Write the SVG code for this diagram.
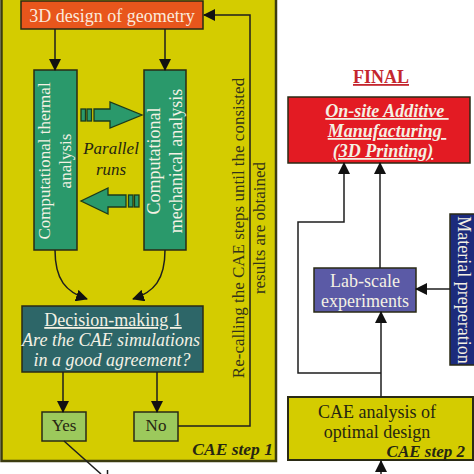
<svg xmlns="http://www.w3.org/2000/svg" width="474" height="474" viewBox="0 0 474 474">
<style>
text{font-family:"Liberation Serif","Times New Roman",serif;font-size:18px}
.c{text-anchor:middle}
.w{fill:#f4f1e4}
.d{fill:#262612}
.i{font-style:italic}
.b{font-weight:bold}
.u{text-decoration:underline}
.ln{fill:none;stroke:#1e1e1e;stroke-width:1.5}
.bx{stroke:#2a2a14;stroke-width:1.5}
</style>
<defs>
<marker id="ah" markerUnits="userSpaceOnUse" markerWidth="12" markerHeight="12" viewBox="0 0 12 12" refX="11" refY="6" orient="auto">
<path d="M0,0 L12,6 L0,12 Z" fill="#111"/>
</marker>
</defs>
<rect width="474" height="474" fill="#fff"/>

<g id="cae-step-1">
<rect x="1.5" y="-10" width="274.5" height="471" fill="#d4cc00" stroke="#3c3c10" stroke-width="2.5"/>
<text class="d i b" x="273" y="455" text-anchor="end" style="font-size:17.5px">CAE step 1</text>
</g>

<g id="design">
<rect class="bx" x="21" y="1" width="182" height="28" fill="#e8561c"/>
<text class="c" x="112" y="22" fill="#fbeadc">3D design of geometry</text>
</g>

<g id="thermal">
<rect class="bx" x="34" y="70" width="43" height="180" fill="#2a996b"/>
<text class="c w" transform="translate(50,161) rotate(-90)" style="font-size:17px">Computational thermal</text>
<text class="c w" transform="translate(71,161) rotate(-90)" style="font-size:17px">analysis</text>
</g>

<g id="mechanical">
<rect class="bx" x="144" y="70" width="42" height="180" fill="#2a996b"/>
<text class="c w" transform="translate(160,161) rotate(-90)">Computational</text>
<text class="c w" transform="translate(182,161) rotate(-90)">mechanical analysis</text>
</g>

<g id="parallel-runs">
<g fill="#2a996b" stroke="#1c3a1c" stroke-width="1.3">
<rect x="81" y="109" width="4.5" height="12"/>
<rect x="87" y="109" width="4.5" height="12"/>
<polygon points="94,109 110,109 110,102 142,115 110,128 110,121 94,121"/>
<rect x="134.5" y="195" width="4.5" height="12"/>
<rect x="128.5" y="195" width="4.5" height="12"/>
<polygon points="126,195 108,195 108,188 81,201 108,214 108,207 126,207"/>
</g>
<text class="c d i" x="111" y="154" style="font-size:17px">Parallel</text>
<text class="c d i" x="111" y="175" style="font-size:17px">runs</text>
</g>

<g id="decision">
<rect class="bx" x="22" y="306" width="181" height="66" fill="#2d6668"/>
<text class="c w u" x="113" y="326">Decision-making 1</text>
<text class="c w i" x="111" y="346">Are the CAE simulations</text>
<text class="c w i" x="112" y="366">in a good agreement?</text>
</g>

<g id="yes">
<rect class="bx" x="42" y="412" width="44" height="29" fill="#9cc95c"/>
<text class="c d" x="64" y="431" style="font-size:17px">Yes</text>
</g>

<g id="no">
<rect class="bx" x="134" y="412" width="44" height="29" fill="#9cc95c"/>
<text class="c d" x="156" y="431" style="font-size:17px">No</text>
</g>

<g id="recall-label">
<text class="c" fill="#33331a" transform="translate(244,228) rotate(-90)" style="font-size:17px">Re-calling the CAE steps until the consisted</text>
<text class="c" fill="#33331a" transform="translate(265,228) rotate(-90)" style="font-size:17px">results are obtained</text>
</g>

<g id="final">
<text class="c b u" x="381" y="83" fill="#c4262e">FINAL</text>
<rect class="bx" x="288" y="97" width="182" height="66" fill="#e31b23"/>
<text class="c w i b u" x="387" y="117">On-site Additive&#160;</text>
<text class="c w i b u" x="387" y="137">Manufacturing&#160;</text>
<text class="c w i b u" x="383" y="157">(3D Printing)</text>
</g>

<g id="lab-scale">
<rect class="bx" x="314" y="268" width="102" height="44" fill="#5b5aa6"/>
<text class="c w" x="365" y="287">Lab-scale</text>
<text class="c w" x="365" y="307">experiments</text>
</g>

<g id="material">
<rect class="bx" x="450" y="214" width="28" height="151" fill="#1c2b7c"/>
<text class="c w" transform="translate(458,290) rotate(90)">Material preperation</text>
</g>

<g id="cae-step-2">
<rect x="288" y="397" width="185" height="63" fill="#d4cc00" stroke="#2a2a14" stroke-width="2"/>
<text class="c d" x="377" y="418">CAE analysis of</text>
<text class="c d" x="377" y="438">optimal design</text>
<text class="d i b" x="465" y="457" text-anchor="end" style="font-size:17px">CAE step 2</text>
</g>

<g id="connectors">
<path class="ln" d="M55,29 V70" marker-end="url(#ah)"/>
<path class="ln" d="M165,29 V70" marker-end="url(#ah)"/>
<path class="ln" d="M55,250 C55,280 66,292 87,299" marker-end="url(#ah)"/>
<path class="ln" d="M165,250 C165,280 154,292 133,299" marker-end="url(#ah)"/>
<path class="ln" d="M63,372 V412" marker-end="url(#ah)"/>
<path class="ln" d="M157,372 V412" marker-end="url(#ah)"/>
<path class="ln" d="M178,426 H250 V15 H204" marker-end="url(#ah)"/>
<path class="ln" d="M64,441 L101,474"/>
<path class="ln" d="M107.5,470 V474"/>
<path class="ln" d="M380,268 V163" marker-end="url(#ah)"/>
<path class="ln" d="M381,397 V312" marker-end="url(#ah)"/>
<path class="ln" d="M381,373 H298 V222 H344 V163" marker-end="url(#ah)"/>
<path class="ln" d="M450,289 H416" marker-end="url(#ah)"/>
<path class="ln" d="M381,476 V461" marker-end="url(#ah)"/>
</g>
</svg>
